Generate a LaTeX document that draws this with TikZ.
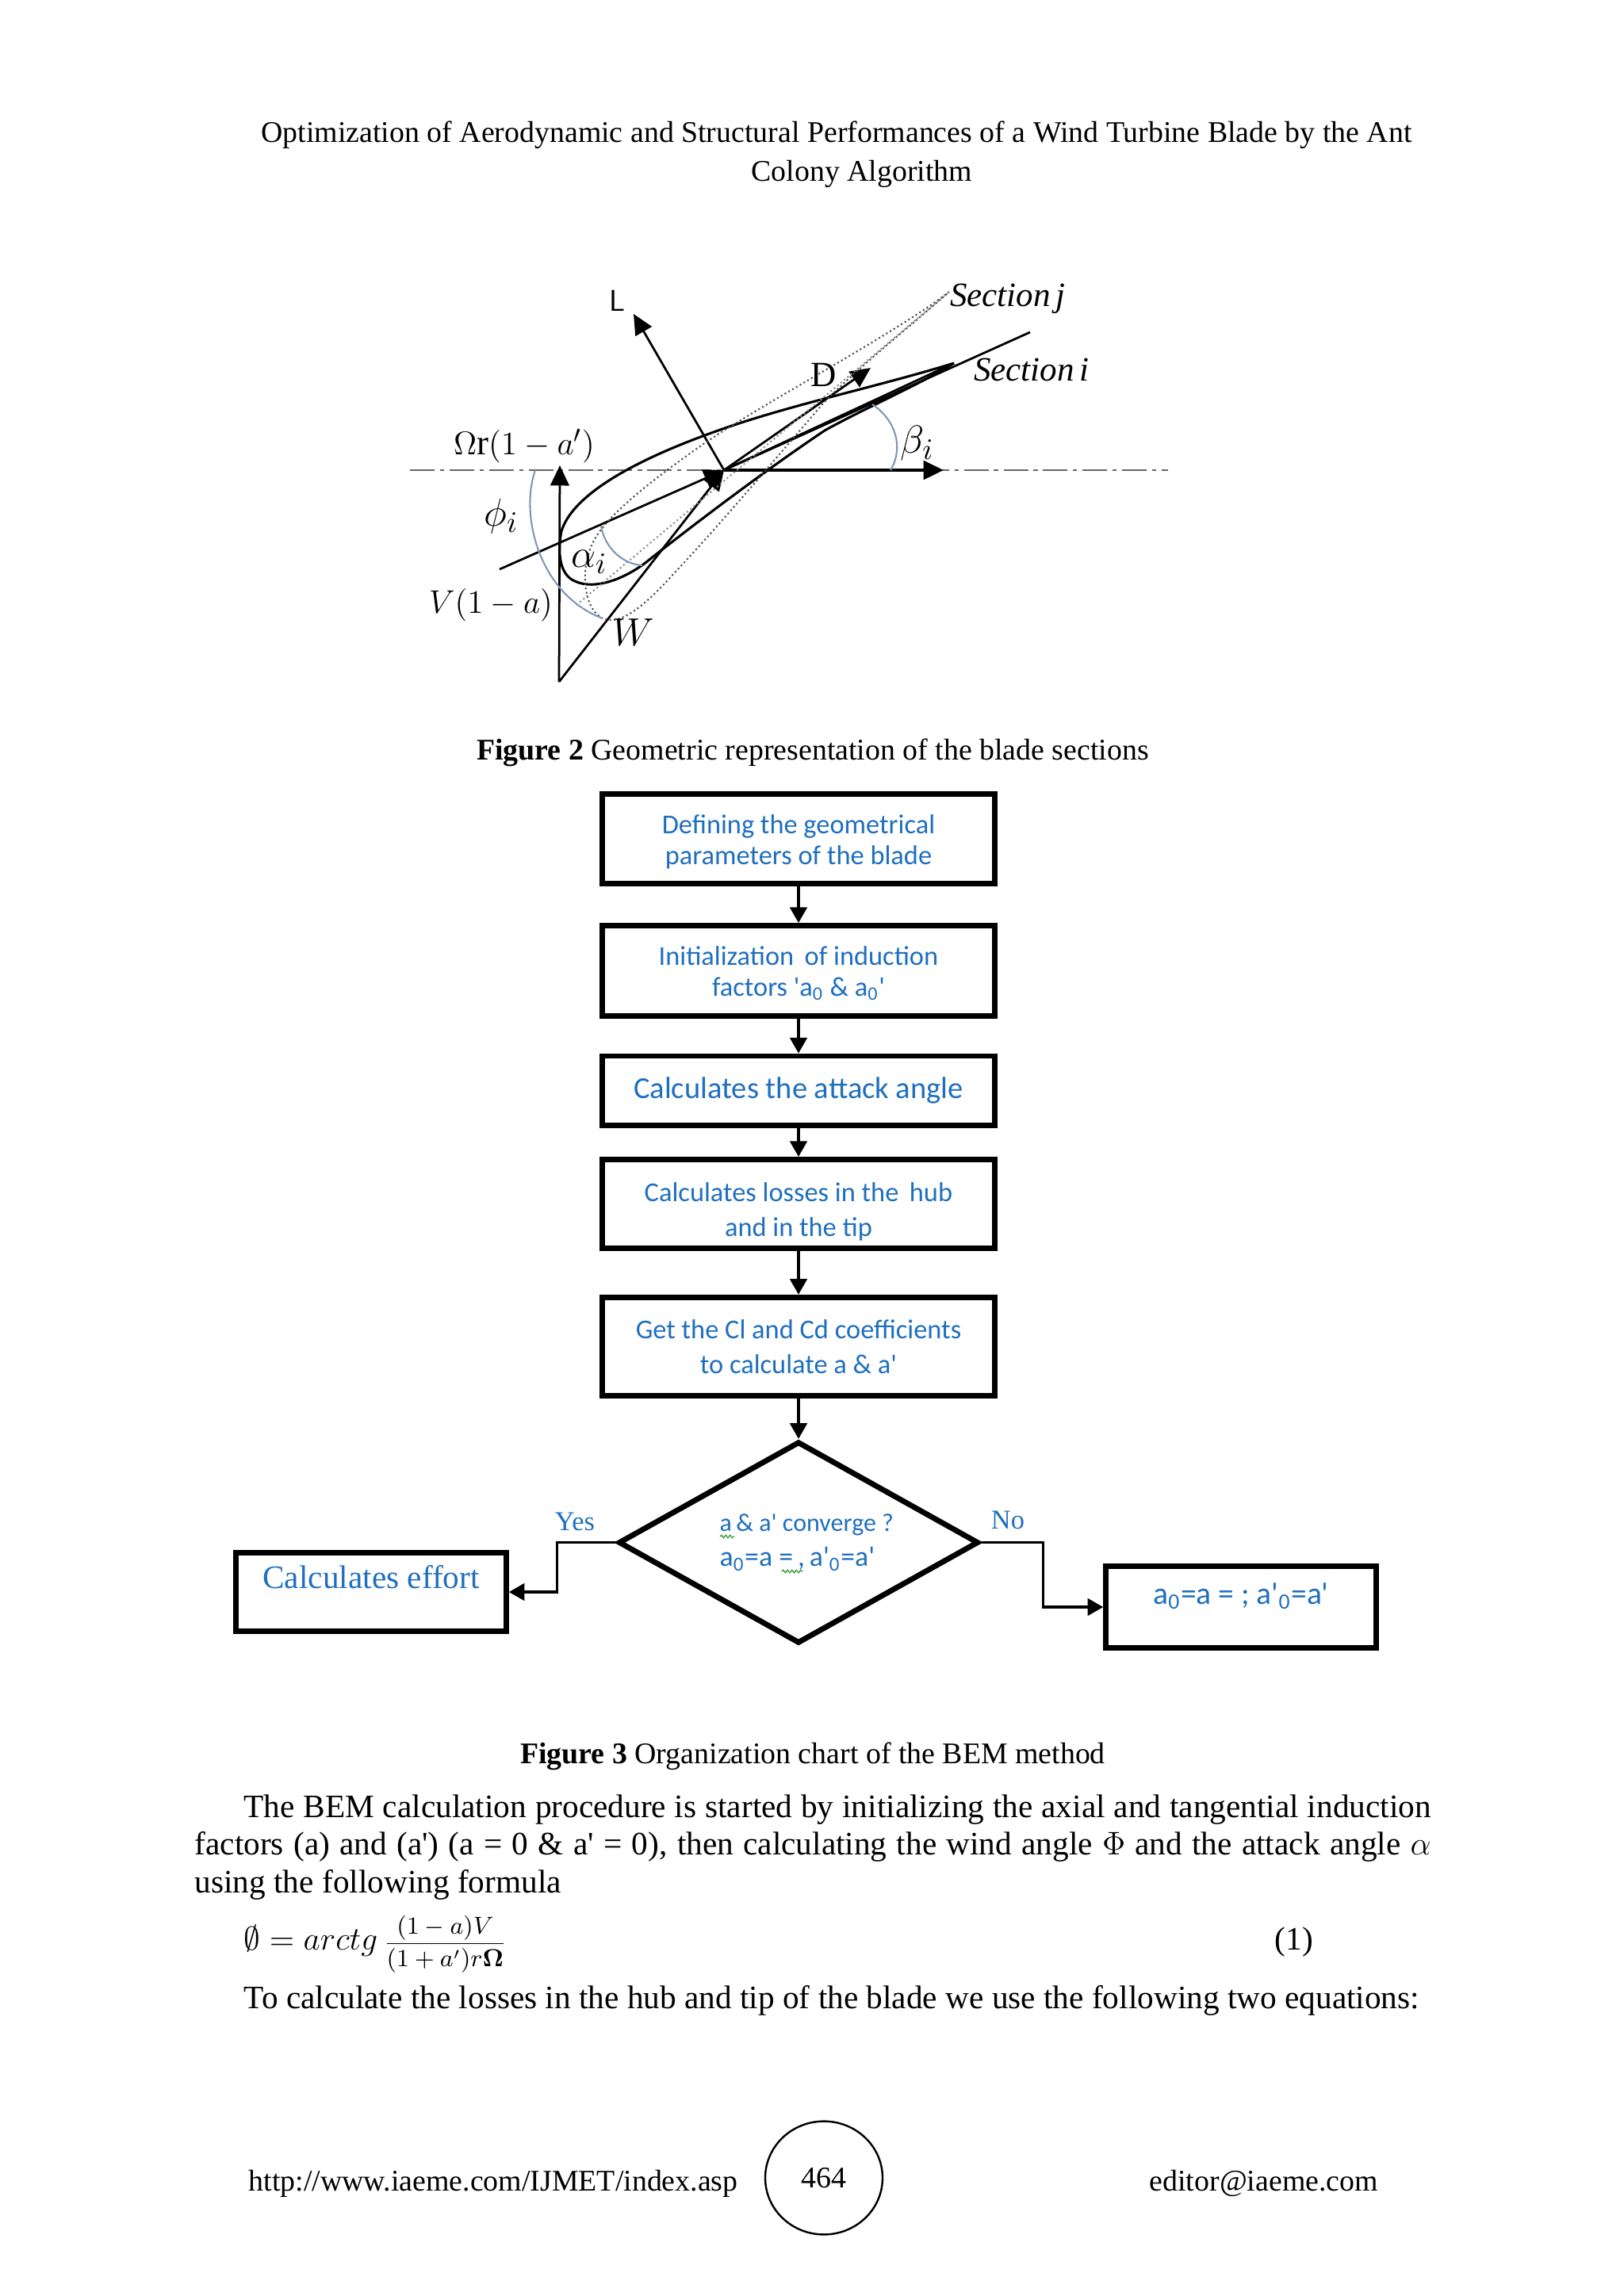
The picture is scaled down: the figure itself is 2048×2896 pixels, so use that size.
\documentclass[tikz,border=0pt]{standalone}
\usepackage{fontspec}
\usepackage{amsmath,amssymb}
\setmainfont{Liberation Serif}
\newfontfamily\chartfont{Carlito}
\usepackage{xcolor}
\definecolor{chartblue}{HTML}{1F6FBF}
\definecolor{arcblue}{HTML}{7F95B5}
\definecolor{squiggle}{HTML}{3F9F3F}
\usetikzlibrary{arrows.meta,positioning,shapes.geometric,decorations.pathmorphing}
\tikzset{
  fb/.style={draw, line width=2pt, align=center, font=\chartfont\fontsize{10}{12.8}\selectfont,
             text=chartblue, minimum width=144pt, inner sep=0pt},
  fbtight/.style={fb, font=\chartfont\fontsize{10}{11.3}\selectfont},
  fdia/.style={draw, diamond, aspect=1.78, line width=2pt, align=left, inner sep=0pt,
             minimum width=132pt, minimum height=74pt, text=chartblue,
             font=\chartfont\fontsize{9.3}{12.8}\selectfont},
  far/.style={-{Triangle[length=2mm,width=2.2mm]}, line width=0.9pt},
  ar/.style={-{Triangle[length=2.6mm,width=2.4mm]}, line width=0.8pt},
  hub/.style={line width=0.8pt},
  arcline/.style={draw=arcblue, line width=0.6pt},
  dotline/.style={draw=black!70, line width=0.6pt, densely dotted},
  wavy/.style={draw=squiggle, line width=0.4pt, decorate, decoration={snake, amplitude=0.5pt, segment length=1.6pt}},
  lab/.style={inner sep=0pt, font=\fontsize{13}{15}\selectfont},
  biglab/.style={inner sep=0pt, font=\fontsize{15}{17}\selectfont},
  seclab/.style={inner sep=0pt, font=\fontsize{12.5}{14}\selectfont\itshape},
  body/.style={inner sep=0pt, font=\fontsize{12}{13.8}\selectfont},
  small/.style={inner sep=0pt, font=\fontsize{11}{13}\selectfont},
  ylab/.style={inner sep=0pt, text=chartblue, font=\fontsize{10}{12}\selectfont},
}
\begin{document}
\begin{tikzpicture}[x=0.29058pt, y=-0.29058pt]
  \useasboundingbox (0,0) rectangle (2048,2896);
  % header
  \node[small] (head1) at (1055,170) {Optimization of Aerodynamic and Structural Performances of a Wind Turbine Blade by the Ant};
  \node[small] (head2) at (1087,219) {Colony Algorithm};

  % figure 2
  \coordinate (axl) at (517,593);
  \coordinate (axr) at (1473,593);
  \coordinate (cen) at (913,593);
  \coordinate (tipl) at (799,396);
  \coordinate (tipd) at (1098,464);
  \coordinate (tipf) at (1190,593);
  \coordinate (vb) at (705,860);
  \coordinate (vt) at (706,587);
  \coordinate (cha) at (630,718);
  \coordinate (chb) at (1299,419);
  \coordinate (te) at (1203,458);
  \coordinate (tj) at (1197,368);
  \draw[line width=0.5pt, draw=black!60, dash pattern=on 9pt off 2pt on 1.5pt off 2pt] (axl) -- (axr);
  \draw[ar] (cen) -- (tipl);
  \draw[ar, line width=1.3pt] (cen) -- (tipf);
  \draw[ar] (vb) -- (vt);
  \draw[ar] (vb) -- (cen);
  \draw[ar] (cha) -- (cen);
  \draw[ar] (cen) -- (tipd);
  \draw[hub] (cen) -- (chb);
  \draw[hub] (cen) -- (te);
  % blade section i
  \draw[line width=0.9pt] (te) .. controls (1110,487) and (990,512) .. (900,545)
    .. controls (830,570) and (725,615) .. (708,670)
    .. controls (703,695) and (705,725) .. (725,733)
    .. controls (750,745) and (790,730) .. (820,705)
    .. controls (890,650) and (970,590) .. (1040,543)
    .. controls (1090,515) and (1160,485) .. (te);
  % blade section j
  \draw[dotline] (tj) .. controls (1130,420) and (960,510) .. (887,560)
    .. controls (830,600) and (770,645) .. (750,680)
    .. controls (730,715) and (735,770) .. (762,781)
    .. controls (790,790) and (830,745) .. (853,720)
    .. controls (900,670) and (960,600) .. (1037,510)
    .. controls (1080,465) and (1150,410) .. (tj);
  \draw[dotline, draw=black!45] (727,763) -- (tj);
  % angles
  \draw[arcline] (675,593) .. controls (655,650) and (680,750) .. (760,780);
  \draw[arcline] (758,663) .. controls (762,690) and (785,712) .. (810,713);
  \draw[arcline] (1100,510) .. controls (1130,530) and (1140,565) .. (1123,593);
  % labels of figure 2
  \node[lab, font=\fontsize{11}{13}\selectfont\sffamily] (nl) at (779,379) {L};
  \node[seclab] (nsj) at (1271,377) {Section\,j};
  \node[seclab] (nsi) at (1301,466) {Section\,i};
  \node[lab] (nd) at (1039,473) {D};
  \node[lab] (nom) at (661,563) {$\Omega\mathrm{r}(1-a')$};
  \node[biglab] (nphi) at (632,651) {$\phi_i$};
  \node[biglab] (nalpha) at (743,709) {$\alpha_i$};
  \node[lab] (nv) at (619,763) {$V(1-a)$};
  \node[biglab] (nw) at (799,798) {$W$};
  \node[biglab] (nbeta) at (1157,559) {$\beta_i$};
  \node[small] (cap2) at (1025,949) {\textbf{Figure 2} Geometric representation of the blade sections};

  % figure 3
  \node[fbtight, minimum height=33pt] (geo) at (1007,1058) {\rule{0pt}{9pt}Defining the geometrical\\parameters of the blade};
  \node[fbtight, minimum height=33.1pt, below=13.3pt of geo] (ind) {\rule{0pt}{9pt}Initialization\, of induction\\factors 'a\textsubscript{0} \& a\textsubscript{0}'};
  \node[fb, minimum height=25.4pt, below=12.7pt of ind, font=\chartfont\fontsize{11.2}{14}\selectfont] (att) {Calculates the attack angle};
  \node[fb, minimum height=32.6pt, below=10.5pt of att] (los) {\rule{0pt}{12.4pt}Calculates losses in the\, hub\\and in the tip};
  \node[fb, minimum height=36.2pt, below=15.9pt of los] (cof) {Get the Cl and Cd coefficients\\to calculate a \& a'};
  \node[fdia, below=14.7pt of cof] (con) {\hspace*{6pt}a\,\& a' converge ?\\\hspace*{6pt}{\fontsize{10.4}{12.8}\selectfont a\textsubscript{0}=a =\,,\,a'\textsubscript{0}=a'}};
  \node[fb, minimum width=99pt, minimum height=29pt, font=\fontsize{12}{14}\selectfont] (eff) at (468,2008) {\raisebox{11pt}{Calculates effort}};
  \node[fb, minimum width=99pt, minimum height=29.7pt, font=\chartfont\fontsize{11.5}{14}\selectfont] (upd) at (1565,2027) {\raisebox{10pt}{a\textsubscript{0}=a = ; a'\textsubscript{0}=a'}};
  \draw[far] (geo) -- (ind);
  \draw[far] (ind) -- (att);
  \draw[far] (att) -- (los);
  \draw[far] (los) -- (cof);
  \draw[far] (cof) -- (con);
  \draw[far] (con.west) -- ++(-74,0) |- (eff.east);
  \draw[far] (con.east) -- ++(78,0) |- (upd.west);
  \node[ylab] (yes) at (725,1919) {Yes};
  \node[ylab] (no) at (1271,1917) {No};
  % spell check marks
  \draw[wavy] (908,1938) -- (926,1938);
  \draw[wavy] (986,1982) -- (1012,1982);
  \node[small] (cap3) at (1025,2215) {\textbf{Figure 3} Organization chart of the BEM method};

  % body text
  \node[body, anchor=north west, text width=453pt, align=justify] (para) at (245,2263)
    {\hspace*{18pt}The BEM calculation procedure is started by initializing the axial and tangential induction factors (a) and (a\textquotesingle) (a = 0 \& a\textquotesingle{} = 0), then calculating the wind angle $\Phi$ and the attack angle $\alpha$ using the following formula};
  \node[body, anchor=west, font=\fontsize{13}{15}\selectfont] (eqn) at (307,2452)
    {$\emptyset = arctg$\,\fontsize{9.2}{11}\selectfont$\displaystyle\frac{(1-a)V}{(1+a')r\boldsymbol{\Omega}}$};
  \node[body] (eqno) at (1632,2450) {(1)};
  \node[body, anchor=west] (last) at (307,2523) {To calculate the losses in the hub and tip of the blade we use the following two equations:};

  % footer
  \node[draw, ellipse, line width=0.7pt, minimum width=43pt, minimum height=41.5pt, inner sep=0pt, font=\fontsize{11}{13}\selectfont] (pg) at (1039,2747) {\raisebox{-5pt}{464}};
  \node[small, anchor=west] (url) at (313,2754) {http://www.iaeme.com/IJMET/index.asp};
  \node[small, anchor=west] (mail) at (1449,2754) {editor@iaeme.com};
\end{tikzpicture}
\end{document}
